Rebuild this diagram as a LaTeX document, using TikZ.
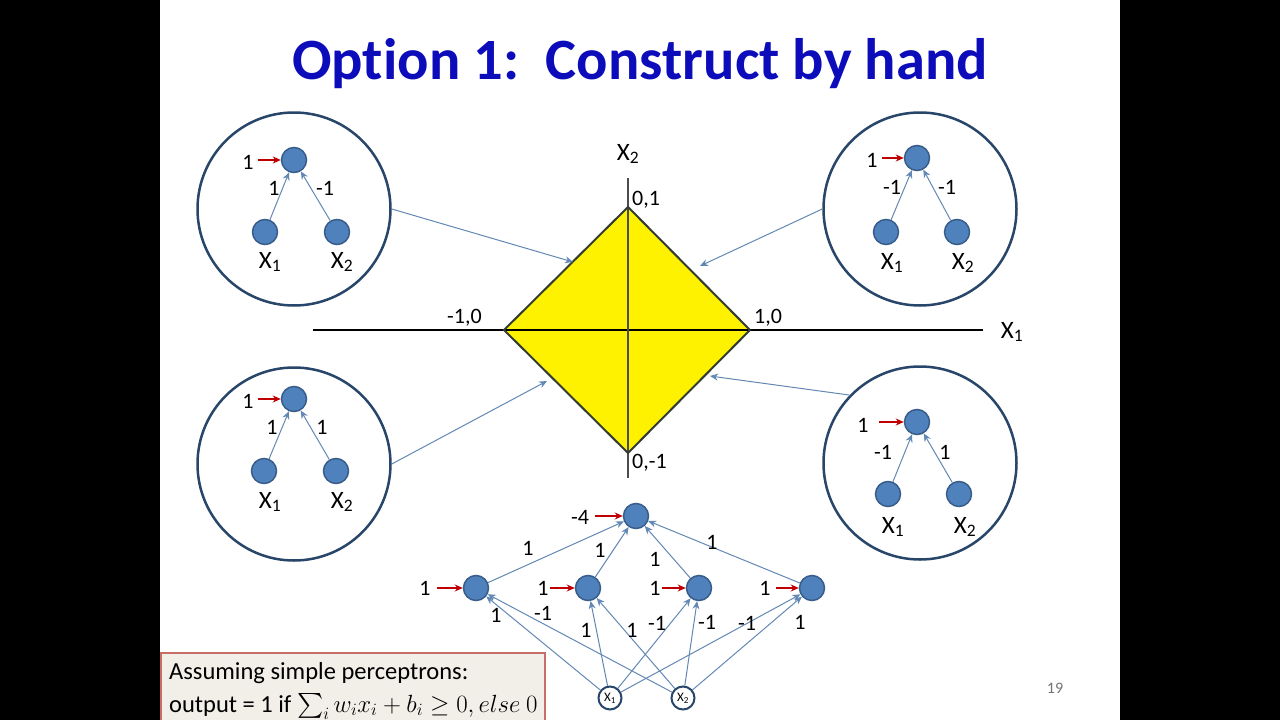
\documentclass[tikz,border=0pt]{standalone}
\usepackage{exscale}
\usepackage{fontspec}
\setmainfont{Carlito}[Ligatures=NoCommon]
\usetikzlibrary{arrows.meta, calc}
\definecolor{titleBlue}{RGB}{12,12,186}
\definecolor{nodeBlue}{RGB}{79,129,189}
\definecolor{nodeEdge}{RGB}{56,93,138}
\definecolor{wireBlue}{RGB}{100,136,180}
\definecolor{biasRed}{RGB}{192,0,0}
\definecolor{ringBlue}{RGB}{40,70,105}
\definecolor{diamondEdge}{RGB}{50,60,50}
\definecolor{noteFill}{RGB}{242,239,233}
\definecolor{noteEdge}{RGB}{200,110,105}

\tikzset{
  neuron/.style={circle, fill=nodeBlue, draw=nodeEdge, line width=1.5pt, minimum size=25pt, inner sep=0pt},
  inputnode/.style={circle, fill=white, draw=ringBlue, line width=2pt, minimum size=23pt, inner sep=0pt, font=\fontsize{13}{14}\selectfont},
  ring/.style={circle, draw=ringBlue, line width=2.5pt, minimum size=193pt, inner sep=0pt},
  wire/.style={draw=wireBlue, line width=1pt, -{Stealth[length=8pt, width=7pt]}},
  biasarrow/.style={draw=biasRed, line width=1.3pt, -{Stealth[length=8pt, width=7pt]}},
  num/.style={font=\fontsize{22}{24}\selectfont, inner sep=1pt},
  xlab/.style={font=\fontsize{25}{27}\selectfont, anchor=base, inner sep=0pt},
  notetext/.style={anchor=base west, align=left, inner sep=0pt, font=\fontsize{24.5}{33}\selectfont},
}

\begin{document}
\begin{tikzpicture}[x=1pt, y=-1pt]
  \clip (0,0) rectangle (1280,720);
  \fill[black] (0,0) rectangle (1280,720);
  \fill[white] (160,0) rectangle (1120,720);

  \node[anchor=base, font=\fontsize{58.5}{62}\selectfont\bfseries, text=titleBlue] (title) at (640,79) {Option 1:~~Construct by hand};

  % diamond and axes
  \coordinate (dtop) at (628,207);
  \coordinate (dright) at (750,330);
  \coordinate (dbot) at (628,453);
  \coordinate (dleft) at (504,330);
  \fill[yellow] (dtop) -- (dright) -- (dbot) -- (dleft) -- cycle;
  \draw[line width=1.5pt] (313,330) -- (983,330);
  \draw[line width=1.5pt, black!70] (628,178) -- (628,478);
  \draw[diamondEdge, line width=2pt, line join=round] (dtop) -- (dright) -- (dbot) -- (dleft) -- cycle;
  \node[xlab] (axx) at (1012,338) {X\textsubscript{1}};
  \node[xlab] (axy) at (628,160) {X\textsubscript{2}};
  \node[num, anchor=base west, inner sep=0pt] (ptop) at (632,205) {0,1};
  \node[num, anchor=base west, inner sep=0pt] (pleft) at (447,323) {-1,0};
  \node[num, anchor=base west, inner sep=0pt] (pright) at (754,323) {1,0};
  \node[num, anchor=base west, inner sep=0pt] (pbot) at (632,468) {0,-1};

  % top left perceptron
  \node[ring] (ctl) at (294,209) {};
  \node[neuron] (tlo) at (294,160) {};
  \node[neuron] (tla) at (265,232) {};
  \node[neuron] (tlb) at (337,232) {};
  \node[num] (tlbias) at (248,162) {1};
  \draw[biasarrow] ($(tlbias.east |- tlo)+(3,0)$) -- (tlo.west);
  \draw[wire] (tla) -- (tlo);
  \draw[wire] (tlb) -- (tlo);
  \node[num] (tlwa) at (274,188) {1};
  \node[num] (tlwb) at (325,188) {-1};
  \node[xlab] (tlxa) at (270,268) {X\textsubscript{1}};
  \node[xlab] (tlxb) at (342,268) {X\textsubscript{2}};

  % top right perceptron
  \node[ring] (ctr) at (920,209) {};
  \node[neuron] (tro) at (917,158) {};
  \node[neuron] (tra) at (886,232) {};
  \node[neuron] (trb) at (957,232) {};
  \node[num] (trbias) at (872,160) {1};
  \draw[biasarrow] ($(trbias.east |- tro)+(3,0)$) -- (tro.west);
  \draw[wire] (tra) -- (tro);
  \draw[wire] (trb) -- (tro);
  \node[num] (trwa) at (892,187) {-1};
  \node[num] (trwb) at (947,187) {-1};
  \node[xlab] (trxa) at (892,269) {X\textsubscript{1}};
  \node[xlab] (trxb) at (963,269) {X\textsubscript{2}};

  % bottom left perceptron
  \node[ring] (cbl) at (294,464) {};
  \node[neuron] (blo) at (294,399) {};
  \node[neuron] (bla) at (264,471) {};
  \node[neuron] (blb) at (336,471) {};
  \node[num] (blbias) at (248,401) {1};
  \draw[biasarrow] ($(blbias.east |- blo)+(3,0)$) -- (blo.west);
  \draw[wire] (bla) -- (blo);
  \draw[wire] (blb) -- (blo);
  \node[num] (blwa) at (272,427) {1};
  \node[num] (blwb) at (322,427) {1};
  \node[xlab] (blxa) at (270,508) {X\textsubscript{1}};
  \node[xlab] (blxb) at (342,508) {X\textsubscript{2}};

  % bottom right perceptron
  \node[ring] (cbr) at (920,463) {};
  \node[neuron] (bro) at (917,422) {};
  \node[neuron] (bra) at (888,494) {};
  \node[neuron] (brb) at (959,494) {};
  \node[num] (brbias) at (863,425) {1};
  \draw[biasarrow] ($(brbias.east |- bro)+(9,0)$) -- (bro.west);
  \draw[wire] (bra) -- (bro);
  \draw[wire] (brb) -- (bro);
  \node[num] (brwa) at (883,452) {-1};
  \node[num] (brwb) at (945,452) {1};
  \node[xlab] (brxa) at (893,533) {X\textsubscript{1}};
  \node[xlab] (brxb) at (965,533) {X\textsubscript{2}};

  % pointers to the edges of the diamond
  \coordinate (hittl) at (573,262);
  \coordinate (hittr) at (700,266);
  \coordinate (hitbl) at (547,381);
  \coordinate (hitbr) at (710,376);
  \draw[wire] (ctl.east) -- (hittl);
  \draw[wire] (ctr.west) -- (hittr);
  \draw[wire] (cbl.east) -- (hitbl);
  \draw[wire] (cbr.136) -- (hitbr);

  % two layer network
  \node[neuron] (out) at (636,516) {};
  \node[neuron] (h1) at (476,588) {};
  \node[neuron] (h2) at (588,588) {};
  \node[neuron] (h3) at (699,588) {};
  \node[neuron] (h4) at (812,588) {};
  \node[inputnode] (in1) at (610,698) {X\textsubscript{1}};
  \node[inputnode] (in2) at (683,698) {X\textsubscript{2}};
  \foreach \h in {h1,h2,h3,h4}
    \draw[wire] (\h) -- (out);
  \foreach \i in {in1,in2}
    \foreach \h in {h1,h2,h3,h4}
      \draw[wire] (\i) -- (\h);
  \node[num] (bout) at (580,517) {-4};
  \draw[biasarrow] ($(bout.east |- out)+(5,0)$) -- (out.west);
  \node[num] (bh1) at (425,588) {1};
  \node[num] (bh2) at (543,588) {1};
  \node[num] (bh3) at (655,588) {1};
  \node[num] (bh4) at (765,588) {1};
  \draw[biasarrow] ($(bh1.east)+(5,0)$) -- (h1.west);
  \draw[biasarrow] (bh2.east) -- (h2.west);
  \draw[biasarrow] (bh3.east) -- (h3.west);
  \draw[biasarrow] ($(bh4.east)+(4,0)$) -- (h4.west);
  \node[num] (wo1) at (528,548) {1};
  \node[num] (wo2) at (600,550) {1};
  \node[num] (wo3) at (655,559) {1};
  \node[num] (wo4) at (712,542) {1};
  \node[num] (wi1) at (496,615) {1};
  \node[num] (wi2) at (543,613) {-1};
  \node[num] (wi3) at (586,630) {1};
  \node[num] (wi4) at (632,630) {1};
  \node[num] (wi5) at (657,623) {-1};
  \node[num] (wi6) at (707,622) {-1};
  \node[num] (wi7) at (747,623) {-1};
  \node[num] (wi8) at (800,622) {1};

  % note box
  \draw[noteEdge, fill=noteFill, line width=1.5pt] (161,653) rectangle (545,730);
  \node[notetext] (note) at (169,712) {Assuming simple perceptrons:\\output = 1 if $\sum_i w_i x_i + b_i \geq 0, else~0$};

  \node[font=\fontsize{16}{18}\selectfont, text=black!55] (pagenum) at (1055,688) {19};
\end{tikzpicture}
\end{document}
